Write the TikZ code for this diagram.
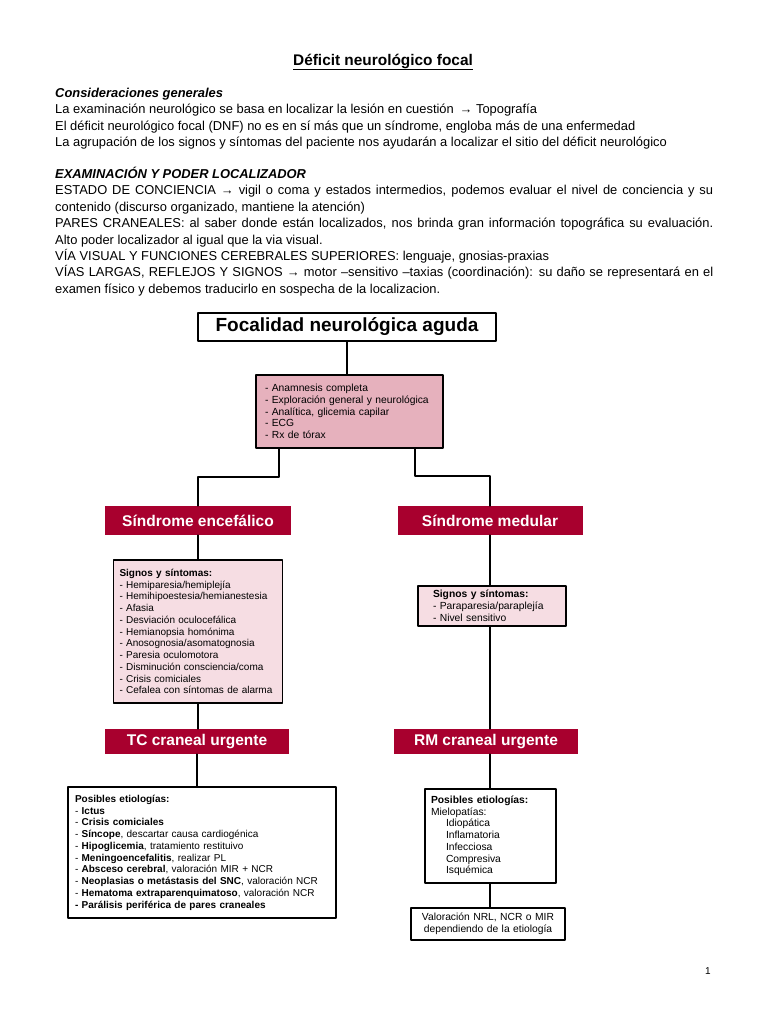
\documentclass[tikz,border=0pt]{standalone}
\usepackage{fontspec}
\setmainfont{Liberation Sans}
\usetikzlibrary{positioning}
\definecolor{rojo}{HTML}{A8002E}
\definecolor{rosa}{HTML}{E6B1BD}
\definecolor{rosaclaro}{HTML}{F6DDE3}
\tikzset{
  parrafo/.style={anchor=north west, inner sep=0pt, text width=658pt, align=justify, font=\fontsize{12.9}{16.4}\selectfont},
  cabecera/.style={draw, line width=1.8pt, fill=white, inner sep=0pt, font=\fontsize{19}{22}\selectfont\bfseries},
  caja/.style={draw, line width=1.4pt, inner xsep=6pt, inner ysep=0pt, align=left, font=\fontsize{10.3}{11.75}\selectfont},
  sindrome/.style={fill=rojo, text=white, inner sep=0pt, font=\fontsize{15.5}{18}\selectfont\bfseries},
  union/.style={line width=1.7pt},
  every picture/.style={line cap=round, line join=round}
}

\begin{document}
\begin{tikzpicture}[x={(1pt,0pt)}, y={(0pt,-1pt)}]
  \useasboundingbox (0,0) rectangle (768,1024);
  \fill[white] (0,0) rectangle (768,1024);
  % texto
  \node[font=\fontsize{15.4}{18}\selectfont\bfseries] (titulo) at (383,62) {\underline{Déficit neurológico focal}};
  \node[parrafo] (generales) at (55,88) {\parindent=0pt\parskip=0pt
    \textbf{\textit{Consideraciones generales}}\par
    La examinación neurológico se basa en localizar la lesión en cuestión \,→ Topografía\par
    El déficit neurológico focal (DNF) no es en sí más que un síndrome, engloba más de una enfermedad\par
    La agrupación de los signos y síntomas del paciente nos ayudarán a localizar el sitio del déficit neurológico\par};
  \node[parrafo] (examen) at (55,167) {\parindent=0pt\parskip=0pt\hyphenpenalty=10000
    \textbf{\textit{EXAMINACIÓN Y PODER LOCALIZADOR}}\par
    ESTADO DE CONCIENCIA → vigil o coma y estados intermedios, podemos evaluar el nivel de conciencia y su\linebreak contenido (discurso organizado, mantiene la atención)\par
    PARES CRANEALES: al saber donde están localizados, nos brinda gran información topográfica su evaluación.\linebreak Alto poder localizador al igual que la via visual.\par
    VÍA VISUAL Y FUNCIONES CEREBRALES SUPERIORES: lenguaje, gnosias-praxias\par
    VÍAS LARGAS, REFLEJOS Y SIGNOS → motor –sensitivo –taxias (coordinación): su daño se representará en el\linebreak examen físico y debemos traducirlo en sospecha de la localizacion.\par};

  % diagrama
  \node[cabecera, minimum width=298pt, minimum height=28pt] (focal) at (347,327) {Focalidad neurológica aguda};
  \node[caja, fill=rosa, inner xsep=9pt, text width=169pt, minimum height=73pt] (pruebas) at (349.5,411.5) {%
    - Anamnesis completa\\
    - Exploración general y neurológica\\
    - Analítica, glicemia capilar\\
    - ECG\\
    - Rx de tórax};
  \node[sindrome, minimum width=186pt, minimum height=29pt] (encef) at (198,520.5) {Síndrome encefálico};
  \node[sindrome, minimum width=185pt, minimum height=29pt] (medular) at (490,520.5) {Síndrome medular};
  \node[caja, fill=rosaclaro, text width=157pt, minimum height=143pt, font=\fontsize{10}{11.75}\selectfont] (signosE) at (198,631.5) {%
    \textbf{Signos y síntomas:}\\
    - Hemiparesia/hemiplejía\\
    - Hemihipoestesia/hemianestesia\\
    - Afasia\\
    - Desviación oculocefálica\\
    - Hemianopsia homónima\\
    - Anosognosia/asomatognosia\\
    - Paresia oculomotora\\
    - Disminución consciencia/coma\\
    - Crisis comiciales\\
    - Cefalea con síntomas de alarma};
  \node[caja, fill=rosaclaro, inner xsep=15pt, text width=118pt, minimum height=40pt] (signosM) at (492,606) {%
    \textbf{Signos y síntomas:}\\
    - Paraparesia/paraplejía\\
    - Nivel sensitivo};
  \node[sindrome, minimum width=184pt, minimum height=25pt] (tc) at (197,741.5) {TC craneal urgente};
  \node[sindrome, minimum width=184pt, minimum height=25pt] (rm) at (486,741.5) {RM craneal urgente};
  \node[caja, inner xsep=7pt, text width=254pt, minimum height=131pt, font=\fontsize{10}{11.75}\selectfont] (etiolE) at (202,852.5) {%
    \textbf{Posibles etiologías:}\\
    - \textbf{Ictus}\\
    - \textbf{Crisis comiciales}\\
    - \textbf{Síncope}, descartar causa cardiogénica\\
    - \textbf{Hipoglicemia}, tratamiento restituivo\\
    - \textbf{Meningoencefalitis}, realizar PL\\
    - \textbf{Absceso cerebral}, valoración MIR + NCR\\
    - \textbf{Neoplasias o metástasis del SNC}, valoración NCR\\
    - \textbf{Hematoma extraparenquimatoso}, valoración NCR\\
    \textbf{- Parálisis periférica de pares craneales}};
  \node[caja, text width=119pt, minimum height=94pt] (etiolM) at (490.5,836) {%
    \textbf{Posibles etiologías:}\\
    Mielopatías:\\
    \hspace*{15pt}Idiopática\\
    \hspace*{15pt}Inflamatoria\\
    \hspace*{15pt}Infecciosa\\
    \hspace*{15pt}Compresiva\\
    \hspace*{15pt}Isquémica};
  \node[caja, align=center, text width=142pt, minimum height=32pt] (valoracion) at (488,924) {%
    Valoración NRL, NCR o MIR\\
    dependiendo de la etiología};

  % conexiones
  \draw[union] (focal.south) -- (focal.south |- pruebas.north);
  \draw[union] ([xshift=-70.5pt]pruebas.south) -- ++(0,28) -| (encef.north);
  \draw[union] ([xshift=65.5pt]pruebas.south) -- ++(0,27) -| (medular.north);
  \draw[union] (encef.south) -- (encef.south |- signosE.north);
  \draw[union] (signosE.south) -- (signosE.south |- tc.north);
  \draw[union] (tc.south) -- (tc.south |- etiolE.north);
  \draw[union] (medular.south) -- (medular.south |- signosM.north);
  \draw[union] (signosM.south -| medular.south) -- (medular.south |- rm.north);
  \draw[union] (rm.south -| medular.south) -- (medular.south |- etiolM.north);
  \draw[union] (etiolM.south -| medular.south) -- (medular.south |- valoracion.north);

  \node[font=\fontsize{10}{12}\selectfont] (pagina) at (708,971) {1};
\end{tikzpicture}
\end{document}
